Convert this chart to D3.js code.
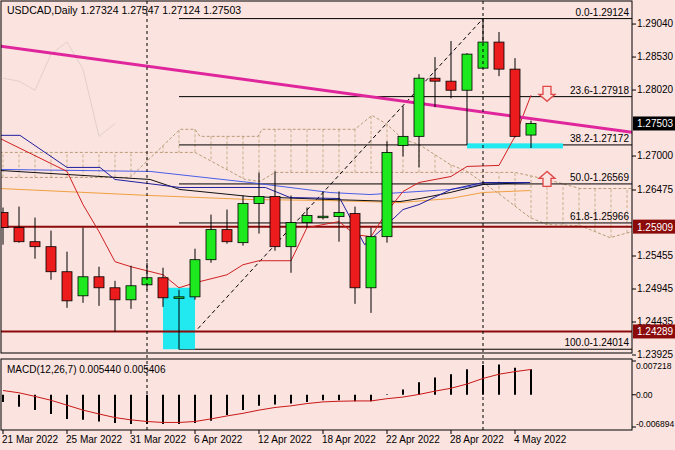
<!DOCTYPE html>
<html><head><meta charset="utf-8">
<script src="https://cdn.jsdelivr.net/npm/d3@7"></script>
<style>
body{margin:0;background:#fbe3df;}
svg{display:block;font-family:"Liberation Sans",Arial,sans-serif;}
</style></head>
<body>
<svg id="chart" width="675" height="450"></svg>
<script>
// daily candles, 21 Mar 2022 .. 5 May 2022
const dates = ["21 Mar","22 Mar","23 Mar","24 Mar","25 Mar","28 Mar","29 Mar","30 Mar","31 Mar","1 Apr",
  "4 Apr","5 Apr","6 Apr","7 Apr","8 Apr","11 Apr","12 Apr","13 Apr","14 Apr","15 Apr",
  "18 Apr","19 Apr","20 Apr","21 Apr","22 Apr","25 Apr","26 Apr","27 Apr","28 Apr","29 Apr",
  "2 May","3 May","4 May","5 May"];
const opens  = [1.26126,1.25894,1.25676,1.25599,1.25212,1.24840,1.25134,1.24964,1.24778,1.25010,
  1.25119,1.24809,1.24824,1.25398,1.25863,1.25661,1.26265,1.26374,1.25599,1.25971,
  1.26064,1.26064,1.26111,1.24964,1.25754,1.27165,1.27304,1.28203,1.28157,1.28017,
  1.28358,1.28761,1.28343,1.27324];
const highs  = [1.26204,1.26219,1.26049,1.25847,1.25522,1.25894,1.25289,1.25072,1.25305,1.25351,
  1.25274,1.24933,1.25568,1.26095,1.26173,1.26390,1.26746,1.26762,1.26390,1.26204,
  1.26452,1.26452,1.26219,1.25894,1.27227,1.27769,1.28265,1.28529,1.28777,1.28590,
  1.29124,1.28916,1.28513,1.27547];
const lows   = [1.25630,1.25661,1.25413,1.25088,1.24654,1.24731,1.24685,1.24282,1.24638,1.24933,
  1.24669,1.24014,1.24778,1.25351,1.25645,1.25615,1.25801,1.25537,1.25196,1.25894,
  1.26018,1.25676,1.24716,1.24576,1.25661,1.26994,1.26824,1.27754,1.27893,1.27172,
  1.28358,1.28234,1.27289,1.27124];
const closes = [1.25894,1.25676,1.25599,1.25212,1.24762,1.25134,1.24964,1.24778,1.24995,1.25119,
  1.24809,1.24824,1.25398,1.25863,1.25676,1.26265,1.26374,1.25599,1.25971,1.26080,
  1.26070,1.26126,1.24964,1.25754,1.27056,1.27304,1.28203,1.28157,1.28017,1.28575,
  1.28761,1.28343,1.27304,1.27503];

// indicator lines as [candle index, price]
const tenkan = [[-0.2,1.27273],[4,1.26762],[5,1.26250],[6,1.25832],[7,1.25367],[8,1.25289],[10,1.25165],
  [11,1.24964],[12,1.25041],[14,1.25165],[15,1.25320],[16,1.25382],[18,1.25382],[19,1.25894],
  [21,1.25987],[22,1.25785],[23,1.25754],[24,1.26142],[25,1.26452],[26,1.26591],[28,1.26684],
  [29,1.26839],[31,1.26855],[32,1.27304],[33,1.27940]];
const kijun = [[-0.2,1.27320],[1.06,1.27320],[4,1.26824],[6.06,1.26824],[7,1.26638],[11.06,1.26514],
  [16.4,1.26514],[17.94,1.26359],[21.06,1.26343],[22.6,1.25630],[24,1.25940],[25,1.26173],
  [26,1.26250],[28,1.26483],[30,1.26591],[32.94,1.26591]];
const maBlue = [[-0.2,1.26793],[9.19,1.26762],[15.44,1.26591],[20.44,1.26436],[22.94,1.26405],
  [27.94,1.26483],[30,1.26560],[32.94,1.26591]];
const maBlack = [[-0.2,1.26777],[9.19,1.26638],[11.06,1.26483],[15.44,1.26374],[20.44,1.26328],
  [24.81,1.26297],[26.06,1.26343],[27.94,1.26436],[30,1.26560],[32.94,1.26591]];
const maOrange = [[-0.2,1.26498],[9.19,1.26390],[15.44,1.26328],[20.44,1.26312],[24.81,1.26281],
  [27.94,1.26343],[30,1.26436],[32.94,1.26467]];
const spanA = [[-0.2,1.26669],[7.94,1.26669],[11.06,1.27413],[12,1.27413],[12.31,1.27304],[15.94,1.27304],
  [16.19,1.27413],[22,1.27413],[23.06,1.27630],[24,1.27490],[25,1.27258],[26,1.27180],[27.94,1.26870],
  [29,1.26762],[31.06,1.26405],[32.94,1.26049],[34,1.25940],[36.06,1.25925],[37.94,1.25739],[39.31,1.25832]];
const spanB = [[-0.2,1.27056],[12,1.27056],[15.13,1.26638],[16.06,1.26607],[17,1.26747],[32,1.26747],
  [34,1.26638],[36.06,1.26498],[39.31,1.26498]];
const trendLine = [[-0.19,1.28699],[39.31,1.27366]];
const supports = [1.25909,1.24289];
const fibLow = [11,1.24014], fibHigh = [30,1.29124];
const fibLevels = [0,0.236,0.382,0.5,0.618,1];
const monthLines = [9,30];
const chikouShift = 26;

const macdHist = [-0.00153,-0.00258,-0.00328,-0.00411,-0.00516,-0.00537,-0.00572,-0.00606,-0.00627,-0.00627,
  -0.00627,-0.00627,-0.00606,-0.00558,-0.00432,-0.00328,-0.00237,-0.00209,-0.00188,-0.00153,
  -0.00118,-0.00118,-0.00139,-0.00139,0.0001,0.00112,0.00265,0.00369,0.00439,0.00544,
  0.00634,0.00648,0.00579,0.00544];
const macdSignal = [0.00091,0.00042,-0.00035,-0.00118,-0.00223,-0.00328,-0.00411,-0.00488,-0.00537,-0.00572,
  -0.00592,-0.00592,-0.00572,-0.00516,-0.00453,-0.00397,-0.00328,-0.00272,-0.00237,-0.00188,
  -0.00153,-0.00139,-0.00132,-0.00132,-0.00084,-0.00049,0.00007,0.00077,0.00139,0.0023,
  0.00349,0.00439,0.00495,0.005406];

const priceTicks = [1.29040,1.28530,1.28020,1.27000,1.26475,1.25455,1.24945,1.24435,1.23925];
const dateTicks = [[0,"21 Mar 2022"],[4,"25 Mar 2022"],[8,"31 Mar 2022"],[12,"6 Apr 2022"],[16,"12 Apr 2022"],
  [20,"18 Apr 2022"],[24,"22 Apr 2022"],[28,"28 Apr 2022"],[32,"4 May 2022"]];

const svg = d3.select("#chart");
const W = 632, mainTop = 1, mainBot = 353, mTop = 359, mBot = 430;

const x = d3.scaleLinear().domain([0, 1]).range([3, 19]);
const y = d3.scaleLinear().domain([1.23956, 1.29396]).range([mainBot, mainTop]);
const ym = d3.scaleLinear().domain([-0.006894, 0.007218]).range([mBot - 3, mTop + 2]);

svg.append("clipPath").attr("id", "clipMain")
  .append("rect").attr("x", 1).attr("y", mainTop).attr("width", W - 1).attr("height", mainBot - mainTop);
const main = svg.append("g").attr("clip-path", "url(#clipMain)");
const line = d3.line().x(d => x(d[0])).y(d => y(d[1]));

// ichimoku cloud: hatch + boundaries
const interp = (pts, i) => {
  for (let k = 1; k < pts.length; k++) {
    if (i <= pts[k][0]) {
      const a = pts[k-1], b = pts[k], t = (i - a[0]) / (b[0] - a[0]);
      return a[1] + t * (b[1] - a[1]);
    }
  }
  return pts[pts.length-1][1];
};
d3.range(0, 40).forEach(i => {
  main.append("line").attr("x1", x(i)).attr("x2", x(i))
    .attr("y1", y(interp(spanA, i))).attr("y2", y(interp(spanB, i)))
    .attr("stroke", "#c9b08e").attr("stroke-dasharray", "3,2");
});
[spanA, spanB].forEach(s => main.append("path").attr("d", line(s)).attr("fill", "none")
  .attr("stroke", "#b89c78").attr("stroke-dasharray", "3,2"));

// chikou span (close shifted back)
main.append("path").attr("d", d3.line().x((d, i) => x(i)).y(d => y(d))(closes.slice(chikouShift)))
  .attr("fill", "none").attr("stroke", "#e2d0cc");

// fibonacci
fibLevels.forEach(r => {
  const p = fibHigh[1] - r * (fibHigh[1] - fibLow[1]);
  main.append("line").attr("x1", x(fibLow[0])).attr("x2", W).attr("y1", y(p)).attr("y2", y(p))
    .attr("stroke", "#000");
  main.append("text").attr("x", W - 3).attr("y", y(p) - 3).attr("text-anchor", "end")
    .attr("font-size", 10).text((r * 100).toFixed(1) + "-" + p.toFixed(5));
});
main.append("line").attr("x1", x(fibLow[0])).attr("y1", y(fibLow[1]))
  .attr("x2", x(fibHigh[0])).attr("y2", y(fibHigh[1]))
  .attr("stroke", "#000").attr("stroke-dasharray", "4,3");

// highlight boxes
main.append("rect").attr("x", x(10)).attr("width", x(12) - x(10))
  .attr("y", y(1.24964)).attr("height", y(1.24014) - y(1.24964)).attr("fill", "#22e8f0");
main.append("rect").attr("x", x(29)).attr("width", x(35) - x(29))
  .attr("y", y(1.27196)).attr("height", y(1.27118) - y(1.27196)).attr("fill", "#22e8f0");

supports.forEach(p => main.append("line").attr("x1", 0).attr("x2", W).attr("y1", y(p)).attr("y2", y(p))
  .attr("stroke", "#8b0a0a").attr("stroke-width", 2));

// moving lines
[[maOrange, "#f0a040"], [maBlue, "#4a5ee8"], [maBlack, "#111"], [kijun, "#2020a0"], [tenkan, "#d02020"]]
  .forEach(([s, c]) => main.append("path").attr("d", line(s)).attr("fill", "none").attr("stroke", c));

main.append("path").attr("d", line(trendLine)).attr("stroke", "#e0269c").attr("stroke-width", 3);

// month separators (under candles)
monthLines.forEach(i => svg.append("line").attr("x1", x(i)).attr("x2", x(i)).attr("y1", mainTop).attr("y2", mBot)
  .attr("stroke", "#000").attr("stroke-dasharray", "3,3"));

// candles
const cg = main.append("g");
closes.forEach((c, i) => {
  const o = opens[i], up = c >= o;
  cg.append("line").attr("x1", x(i)).attr("x2", x(i)).attr("y1", y(highs[i])).attr("y2", y(lows[i]))
    .attr("stroke", "#000");
  const top = y(Math.max(o, c)), h = Math.max(1.5, Math.abs(y(o) - y(c)));
  cg.append("rect").attr("x", x(i) - 5).attr("width", 10).attr("y", top).attr("height", h)
    .attr("fill", up ? "#1ee81e" : "#ec1c1c").attr("stroke", "#000").attr("stroke-width", 0.8);
});

// arrows
const arrow = (i, pTip, down) => {
  const cx = x(i), ty = y(pTip), s = down ? 1 : -1;
  const pts = [[0,0],[-8,7],[-4,7],[-4,15],[4,15],[4,7],[8,7]].map(d => [cx + d[0], ty - s * d[1]]);
  main.append("path").attr("d", d3.line()(pts) + "Z").attr("fill", "#fbe3df").attr("stroke", "#e04848").attr("stroke-width", 1.3);
};
arrow(34, 1.27846, true);
arrow(34, 1.26762, false);

// frames
svg.append("rect").attr("x", 1).attr("y", mainTop).attr("width", W - 1).attr("height", mainBot - mainTop)
  .attr("fill", "none").attr("stroke", "#000");
svg.append("rect").attr("x", 1).attr("y", mTop).attr("width", W - 1).attr("height", mBot - mTop)
  .attr("fill", "none").attr("stroke", "#000");

svg.append("text").attr("x", 7).attr("y", 14).attr("font-size", 10.5)
  .text("USDCAD,Daily  1.27324 1.27547 1.27124 1.27503");

// price axis
const ax = svg.append("g").attr("font-size", 10);
priceTicks.forEach(p => {
  ax.append("line").attr("x1", W).attr("x2", W + 4).attr("y1", y(p)).attr("y2", y(p)).attr("stroke", "#000");
  ax.append("text").attr("x", W + 5).attr("y", y(p) + 3).text(p.toFixed(5));
});
[[closes[33], "#000"], [supports[0], "#8b0a0a"], [supports[1], "#8b0a0a"]].forEach(([p, c]) => {
  ax.append("rect").attr("x", W + 1).attr("y", y(p) - 7).attr("width", 42).attr("height", 14).attr("fill", c);
  ax.append("text").attr("x", W + 5).attr("y", y(p) + 4).attr("fill", "#fff").text(p.toFixed(5));
});

// MACD
const mg = svg.append("g");
macdHist.forEach((v, i) => mg.append("line").attr("x1", x(i)).attr("x2", x(i)).attr("y1", ym(0)).attr("y2", ym(v))
  .attr("stroke", "#000").attr("stroke-width", 2));
mg.append("path").attr("d", d3.line().x((d, i) => x(i)).y(d => ym(d))(macdSignal))
  .attr("fill", "none").attr("stroke", "#c81818");
mg.append("text").attr("x", 7).attr("y", 373).attr("font-size", 10).text("MACD(12,26,7) 0.005440 0.005406");
[[0.007218, "0.007218", 8], [0, "0.00", 3], [-0.006894, "-0.006894", 0]].forEach(([v, t, dy]) => {
  ax.append("line").attr("x1", W).attr("x2", W + 4).attr("y1", ym(v)).attr("y2", ym(v)).attr("stroke", "#000");
  ax.append("text").attr("x", W + 4).attr("y", ym(v) + dy).attr("font-size", 8.5).text(t);
});

// dates
dateTicks.forEach(([i, t]) => {
  ax.append("line").attr("x1", x(i)).attr("x2", x(i)).attr("y1", mBot).attr("y2", mBot + 4).attr("stroke", "#000");
  ax.append("text").attr("x", x(i) - 1).attr("y", 443).text(t);
});
</script>
</body></html>
